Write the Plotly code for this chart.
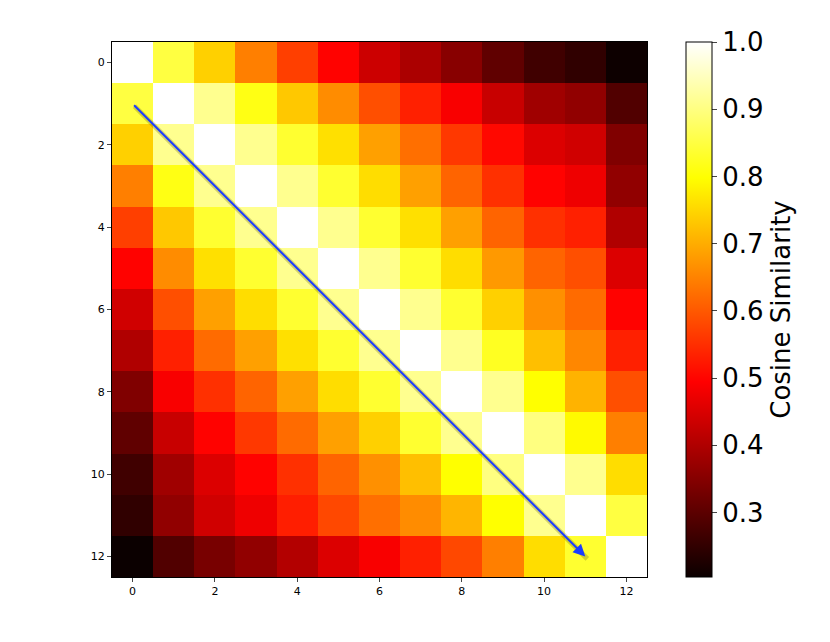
import plotly.graph_objects as go

# cosine similarity between positions 0..12
positions = list(range(13))
tick_vals = [0, 2, 4, 6, 8, 10, 12]
cbar_ticks = [0.3, 0.4, 0.5, 0.6, 0.7, 0.8, 0.9, 1.0]

row_0 = [1.000, 0.849, 0.742, 0.646, 0.570, 0.497, 0.434, 0.394, 0.353, 0.305, 0.267, 0.248, 0.206]
row_1 = [0.849, 1.000, 0.911, 0.814, 0.733, 0.661, 0.589, 0.533, 0.487, 0.429, 0.382, 0.363, 0.287]
row_2 = [0.742, 0.911, 1.000, 0.911, 0.836, 0.761, 0.685, 0.627, 0.561, 0.504, 0.453, 0.439, 0.343]
row_3 = [0.646, 0.814, 0.911, 1.000, 0.911, 0.836, 0.757, 0.685, 0.613, 0.552, 0.497, 0.476, 0.363]
row_4 = [0.570, 0.733, 0.836, 0.911, 1.000, 0.911, 0.836, 0.761, 0.685, 0.613, 0.552, 0.533, 0.401]
row_5 = [0.497, 0.661, 0.761, 0.836, 0.911, 1.000, 0.911, 0.836, 0.757, 0.677, 0.613, 0.589, 0.453]
row_6 = [0.439, 0.589, 0.685, 0.757, 0.836, 0.911, 1.000, 0.911, 0.836, 0.742, 0.666, 0.622, 0.497]
row_7 = [0.401, 0.533, 0.622, 0.685, 0.761, 0.836, 0.911, 1.000, 0.911, 0.825, 0.722, 0.655, 0.533]
row_8 = [0.343, 0.487, 0.552, 0.613, 0.685, 0.757, 0.836, 0.911, 1.000, 0.911, 0.798, 0.707, 0.589]
row_9 = [0.305, 0.429, 0.497, 0.561, 0.622, 0.685, 0.742, 0.836, 0.911, 1.000, 0.899, 0.792, 0.646]
row_10 = [0.267, 0.382, 0.453, 0.497, 0.552, 0.613, 0.666, 0.722, 0.798, 0.899, 1.000, 0.911, 0.757]
row_11 = [0.248, 0.363, 0.439, 0.476, 0.530, 0.580, 0.627, 0.661, 0.710, 0.798, 0.911, 1.000, 0.849]
row_12 = [0.204, 0.287, 0.334, 0.363, 0.404, 0.453, 0.487, 0.533, 0.580, 0.646, 0.757, 0.836, 1.000]

similarity = [row_0, row_1, row_2, row_3, row_4, row_5, row_6,
              row_7, row_8, row_9, row_10, row_11, row_12]

# arrow along the diagonal: tail and head
arrow_tail = [0, 1]
arrow_head = [11, 12]

# matplotlib 'hot'
hot = [
    [0.0, 'rgb(11,0,0)'],
    [0.365079, 'rgb(255,0,0)'],
    [0.746032, 'rgb(255,255,0)'],
    [1.0, 'rgb(255,255,255)'],
]

fig = go.Figure()

fig.add_trace(go.Heatmap(
    z=similarity,
    x=positions,
    y=positions,
    colorscale=hot,
    zmin=min(min(r) for r in similarity),
    zmax=1.0,
    colorbar=dict(
        title=dict(text='Cosine Similarity', side='right',
                   font=dict(size=26, color='black')),
        tickvals=cbar_ticks,
        ticktext=[f'{t:.1f}' for t in cbar_ticks],
        tickfont=dict(size=26, color='black'),
        ticks='outside',
        ticklen=5,
        thickness=26,
        len=1.0,
        lenmode='fraction',
        x=1.054,
        xanchor='left',
        y=0.5,
        ypad=0,
        outlinewidth=1,
        outlinecolor='black',
    ),
    hoverinfo='skip',
))

# soft shadow under the arrow
fig.add_trace(go.Scatter(
    x=[arrow_tail[0] + 0.05, arrow_head[0] + 0.05],
    y=[arrow_tail[1] + 0.06, arrow_head[1] + 0.06],
    mode='lines',
    line=dict(color='rgba(90,90,40,0.28)', width=5),
    showlegend=False,
    hoverinfo='skip',
))

fig.add_annotation(
    x=arrow_head[0], y=arrow_head[1],
    ax=arrow_tail[0], ay=arrow_tail[1],
    xref='x', yref='y', axref='x', ayref='y',
    showarrow=True,
    arrowhead=2,
    arrowsize=1.2,
    arrowwidth=2,
    arrowcolor='#1a3cff',
    text='',
)

axis_style = dict(
    tickvals=tick_vals,
    tickfont=dict(size=11, color='black', family='DejaVu Sans'),
    ticks='outside',
    ticklen=4,
    showline=True,
    linecolor='black',
    linewidth=1,
    mirror=True,
    showgrid=False,
    zeroline=False,
    range=[-0.5, 12.5],
)

fig.update_layout(
    width=822,
    height=634,
    margin=dict(l=104, r=183, t=34, b=65),
    paper_bgcolor='white',
    plot_bgcolor='white',
    font=dict(family='DejaVu Sans', color='black'),
    xaxis=axis_style,
    yaxis=dict(axis_style, range=[12.5, -0.5]),
    showlegend=False,
)

fig.write_html('out.html')
